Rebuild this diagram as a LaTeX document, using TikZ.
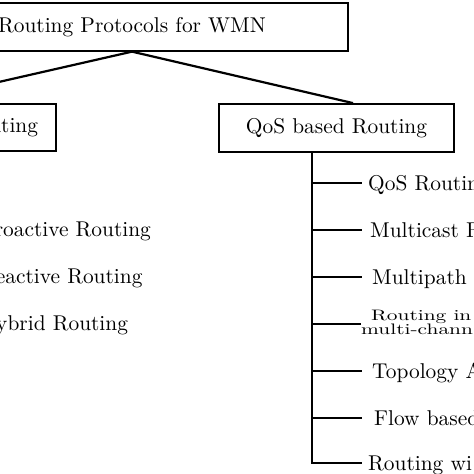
\documentclass[tikz,border=0pt]{standalone}
\usepackage{fontspec}
\setmainfont{lmroman10-regular.otf}
\usepackage{graphicx}
\begin{document}
\begin{tikzpicture}[x=1pt,y=-1pt,
  font=\fontsize{21.4pt}{25.7pt}\selectfont,
  box/.style={draw, line width=1.8pt, rectangle, inner sep=0pt},
  conn/.style={line width=2.2pt},
  leaf/.style={anchor=west, inner ysep=2pt, text height=14.6pt, text depth=0pt}]
\useasboundingbox (0,0) rectangle (474,474);
\clip (0,0) rectangle (474,474);
\node[box, minimum width=432pt, minimum height=47.5pt] (root) at (132,27) {Routing Protocols for WMN};
\node[box, anchor=east, minimum height=47pt, text width=298pt, align=right, inner xsep=18pt] (nonqos) at (57,127.5) {Routing};
\node[box, minimum width=235pt, minimum height=48pt] (qos) at (336.5,128) {QoS based Routing};
\draw[conn] (root.south) -- ([xshift=17pt]nonqos.north);
\draw[conn] (root.south) -- ([xshift=16.5pt]qos.north);
\coordinate (qs) at ([xshift=-24.5pt]qos.south);
\node[leaf, inner xsep=6pt] (l1) at (362,183) {QoS Routin};
\node[leaf, inner xsep=8pt] (l2) at (362,230) {Multicast R};
\node[leaf, inner xsep=10pt] (l3) at (362,277) {Multipath};
\node[anchor=west, inner sep=0pt] (l4) at (361,324) {\scalebox{1}[0.71]{\begin{tabular}{@{}l@{}}\hspace*{10pt}Routing in\\[-6pt]multi-chann\end{tabular}}};
\node[leaf, inner xsep=10pt] (l5) at (362,371) {Topology A};
\node[leaf, inner xsep=12pt] (l6) at (362,418) {Flow based};
\node[leaf, inner xsep=6pt] (l7) at (362,463) {Routing wi};
\foreach \n in {l1,l2,l3,l4,l5,l6,l7} \draw[conn] (qs) |- (\n.west);
\node[leaf, inner xsep=0pt] (p1) at (-20,229.4) {Proactive Routing};
\node[leaf, inner xsep=0pt] (p2) at (-20,275.7) {Reactive Routing};
\node[leaf, inner xsep=0pt] (p3) at (-20,323.4) {Hybrid Routing};
\end{tikzpicture}
\end{document}
